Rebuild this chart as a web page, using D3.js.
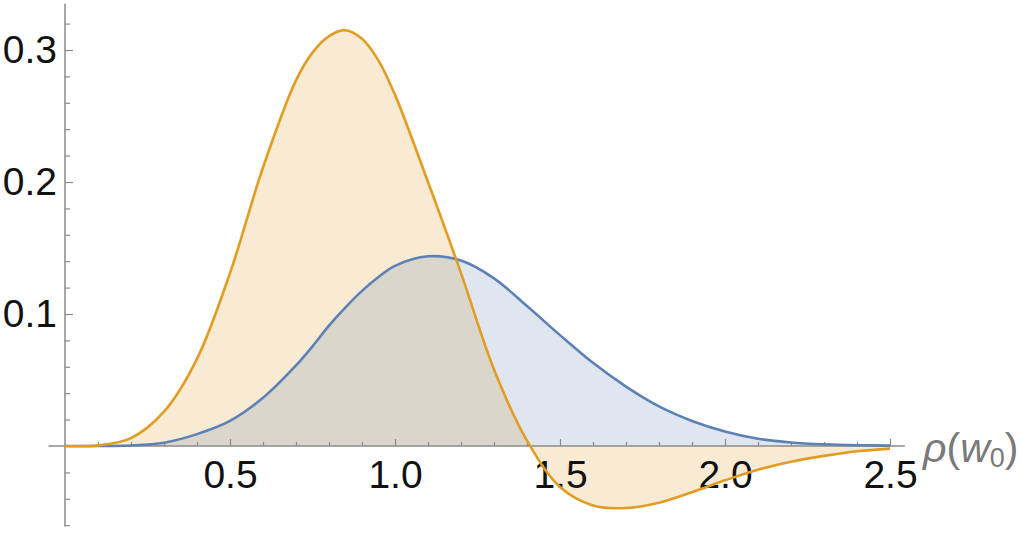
<!DOCTYPE html>
<html>
<head>
<meta charset="utf-8">
<script src="https://cdnjs.cloudflare.com/ajax/libs/d3/7.8.5/d3.min.js"></script>
<style>
  body { margin: 0; background: #fff; }
  svg { display: block; }
</style>
</head>
<body>
<script>
// values
var xs     = [0, 0.1, 0.2, 0.3, 0.4, 0.5, 0.6, 0.7, 0.75, 0.8, 0.85, 0.9, 0.95, 1.0, 1.1, 1.2, 1.3, 1.4, 1.5, 1.6, 1.7, 1.8, 1.9, 2.0, 2.1, 2.2, 2.3, 2.4, 2.5];
var orange = [0, 0.0005, 0.006, 0.026, 0.066, 0.131, 0.211, 0.277, 0.298, 0.3105, 0.315, 0.3085, 0.292, 0.266, 0.200, 0.131, 0.058, 0.004, -0.031, -0.045, -0.047, -0.043, -0.035, -0.026, -0.018, -0.012, -0.0075, -0.004, -0.002];
var blue   = [0, 0, 0.0004, 0.0025, 0.009, 0.019, 0.0365, 0.061, 0.0755, 0.0912, 0.105, 0.1175, 0.128, 0.1365, 0.1437, 0.1405, 0.127, 0.106, 0.084, 0.063, 0.045, 0.030, 0.019, 0.011, 0.0055, 0.0027, 0.0013, 0.0006, 0.0003];

var xMajor = [0.5, 1.0, 1.5, 2.0, 2.5];
var xMinor = [0.1, 0.2, 0.3, 0.4, 0.6, 0.7, 0.8, 0.9, 1.1, 1.2, 1.3, 1.4, 1.6, 1.7, 1.8, 1.9, 2.1, 2.2, 2.3, 2.4];
var yMajor = [0.1, 0.2, 0.3];
var yMinor = [-0.06, -0.04, -0.02, 0.02, 0.04, 0.06, 0.08, 0.12, 0.14, 0.16, 0.18, 0.22, 0.24, 0.26, 0.28, 0.32];

var width = 1025, height = 539;

var svg = d3.select("body").append("svg")
    .attr("width", width)
    .attr("height", height);

var x = d3.scaleLinear().domain([0, 2.5]).range([65, 890]);
var y = d3.scaleLinear().domain([0, 0.3]).range([446, 50]);

var curve = d3.curveCatmullRom.alpha(0.5);

function area(vals) {
  return d3.area()
      .x(function(d, i) { return x(xs[i]); })
      .y0(y(0))
      .y1(function(d) { return y(d); })
      .curve(curve)(vals);
}
function line(vals) {
  return d3.line()
      .x(function(d, i) { return x(xs[i]); })
      .y(function(d) { return y(d); })
      .curve(curve)(vals);
}

// fills
svg.append("path").attr("d", area(orange)).attr("fill", "#e19c24").attr("fill-opacity", 0.2);
svg.append("path").attr("d", area(blue)).attr("fill", "#5e81b5").attr("fill-opacity", 0.2);

// axis lines
var axisColor = "#8a8a8a";
svg.append("line")
    .attr("x1", x(-0.05)).attr("x2", x(2.545))
    .attr("y1", y(0)).attr("y2", y(0))
    .attr("stroke", axisColor).attr("stroke-width", 1.5);
svg.append("line")
    .attr("x1", x(0)).attr("x2", x(0))
    .attr("y1", y(0.335)).attr("y2", y(-0.061))
    .attr("stroke", axisColor).attr("stroke-width", 1.5);

function ticks(axis, g) {
  g.call(axis);
  g.select(".domain").remove();
  g.selectAll("line").attr("stroke", axisColor).attr("stroke-width", 1.2);
}

ticks(d3.axisTop(x).tickValues(xMinor).tickSize(4).tickFormat(""),
      svg.append("g").attr("transform", "translate(0," + y(0) + ")"));
ticks(d3.axisTop(x).tickValues(xMajor).tickSize(7).tickFormat(""),
      svg.append("g").attr("transform", "translate(0," + y(0) + ")"));
ticks(d3.axisRight(y).tickValues(yMinor).tickSize(5).tickFormat(""),
      svg.append("g").attr("transform", "translate(" + x(0) + ",0)"));
ticks(d3.axisRight(y).tickValues(yMajor).tickSize(8).tickFormat(""),
      svg.append("g").attr("transform", "translate(" + x(0) + ",0)"));

// tick labels
var xl = svg.append("g").attr("transform", "translate(0," + y(0) + ")")
    .call(d3.axisBottom(x).tickValues(xMajor).tickSize(0).tickPadding(14).tickFormat(d3.format(".1f")));
xl.select(".domain").remove();
xl.selectAll("text")
    .attr("font-family", "'Liberation Sans', Arial, sans-serif")
    .attr("font-size", 39).attr("fill", "#111");

var yl = svg.append("g").attr("transform", "translate(" + x(0) + ",0)")
    .call(d3.axisLeft(y).tickValues(yMajor).tickSize(0).tickPadding(8).tickFormat(d3.format(".1f")));
yl.select(".domain").remove();
yl.selectAll("text")
    .attr("font-family", "'Liberation Sans', Arial, sans-serif")
    .attr("font-size", 39).attr("fill", "#111");

// curves
svg.append("path").attr("d", line(blue)).attr("fill", "none")
    .attr("stroke", "#5e81b5").attr("stroke-width", 2.6);
svg.append("path").attr("d", line(orange)).attr("fill", "none")
    .attr("stroke", "#e19c24").attr("stroke-width", 2.6);

// axis label
var lab = svg.append("text")
    .attr("x", 923).attr("y", 462)
    .attr("font-family", "'Liberation Sans', Arial, sans-serif")
    .attr("font-size", 41).attr("fill", "#7a7a7a");
lab.append("tspan").attr("font-style", "italic").text("ρ");
lab.append("tspan").text("(");
lab.append("tspan").attr("font-style", "italic").text("w");
lab.append("tspan").attr("font-size", 27).attr("dy", 5).text("0");
lab.append("tspan").attr("dy", -5).text(")");
</script>
</body>
</html>
